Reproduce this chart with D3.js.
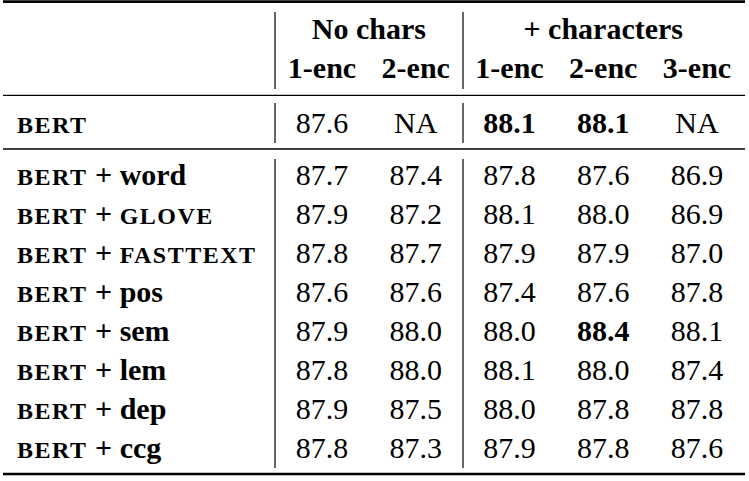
<!DOCTYPE html>
<html>
<head>
<meta charset="utf-8">
<script src="https://cdn.jsdelivr.net/npm/d3@7/dist/d3.min.js"></script>
<style>
  html, body { margin: 0; padding: 0; background: #fff; }
  svg { display: block; }
</style>
</head>
<body>
<script>
// ---- data ----
const groups = ["No chars", "+ characters"];
const groupSpans = [[0, 1], [2, 4]];
const columns = ["1-enc", "2-enc", "1-enc", "2-enc", "3-enc"];

const baseModel = "BERT";
const baseValues = [87.6, null, 88.1, 88.1, null];
const baseBold = [false, false, true, true, false];

const features = ["word", "GLOVE", "FASTTEXT", "pos", "sem", "lem", "dep", "ccg"];
const featureSmallCaps = [false, true, true, false, false, false, false, false];

const noChars1 = [87.7, 87.9, 87.8, 87.6, 87.9, 87.8, 87.9, 87.8];
const noChars2 = [87.4, 87.2, 87.7, 87.6, 88.0, 88.0, 87.5, 87.3];
const chars1   = [87.8, 88.1, 87.9, 87.4, 88.0, 88.1, 88.0, 87.9];
const chars2   = [87.6, 88.0, 87.9, 87.6, 88.4, 88.0, 87.8, 87.8];
const chars3   = [86.9, 86.9, 87.0, 87.8, 88.1, 87.4, 87.8, 87.6];
const series = [noChars1, noChars2, chars1, chars2, chars3];
// bold cells in body: [featureIndex, columnIndex]
const boldCells = [[4, 3]];

// ---- layout ----
const FONT = "'Liberation Serif', 'DejaVu Serif', 'Times New Roman', Times, serif";
const W = 749, H = 481;
const svg = d3.select("body").append("svg")
  .attr("width", W).attr("height", H)
  .attr("font-family", FONT)
  .style("font-family", FONT);
svg.append("rect").attr("width", W).attr("height", H).attr("fill", "#fff");

const x = d3.scaleLinear().domain([0, columns.length - 1]).range([322, 697]);
const yBody = d3.scaleLinear().domain([0, features.length - 1]).range([185, 458]);
const yHead1 = 39, yHead2 = 78, yBase = 133;
const labelX = 17;
const fs = 30, scFs = 24;
const fmt = d3.format(".1f");

// rules
const ruleX0 = 3, ruleX1 = 745;
const rules = [
  { y: 1.6, w: 2.6 },
  { y: 95.3, w: 1.3 },
  { y: 149, w: 1.3 },
  { y: 474, w: 2.6 }
];
svg.selectAll("line.rule").data(rules).join("line")
  .attr("class", "rule")
  .attr("x1", ruleX0).attr("x2", ruleX1)
  .attr("y1", d => d.y).attr("y2", d => d.y)
  .attr("stroke", "#000").attr("stroke-width", d => d.w);

// vertical separators
const vX = [275, 463];
const vSegs = [[12, 89], [103, 143], [159, 468]];
vX.forEach(vx => {
  svg.selectAll(null).data(vSegs).join("line")
    .attr("x1", vx).attr("x2", vx)
    .attr("y1", d => d[0]).attr("y2", d => d[1])
    .attr("stroke", "#000").attr("stroke-width", 1.2);
});

function styleText(sel) {
  return sel.style("font-family", FONT).attr("fill", "#000");
}

// group headers
styleText(svg.selectAll("text.group").data(groups).join("text"))
  .attr("class", "group")
  .attr("x", (d, i) => (x(groupSpans[i][0]) + x(groupSpans[i][1])) / 2)
  .attr("y", yHead1)
  .attr("text-anchor", "middle")
  .attr("font-weight", "bold")
  .attr("font-size", fs)
  .text(d => d);

// column headers
styleText(svg.selectAll("text.col").data(columns).join("text"))
  .attr("class", "col")
  .attr("x", (d, i) => x(i))
  .attr("y", yHead2)
  .attr("text-anchor", "middle")
  .attr("font-weight", "bold")
  .attr("font-size", fs)
  .text(d => d);

// row label helper
function drawLabel(y, feature, sc) {
  const t = styleText(svg.append("text"))
    .attr("x", labelX).attr("y", y)
    .attr("font-weight", "bold");
  t.append("tspan").attr("font-size", scFs).attr("letter-spacing", 1.5).text(baseModel);
  if (feature !== null) {
    t.append("tspan").attr("font-size", fs).attr("letter-spacing", 0).text("\u00a0+\u00a0");
    t.append("tspan")
      .attr("font-size", sc ? scFs : fs)
      .attr("letter-spacing", sc ? 1.5 : 0)
      .text(feature);
  }
}

// base row
drawLabel(yBase, null, false);
styleText(svg.selectAll("text.base").data(baseValues).join("text"))
  .attr("class", "base")
  .attr("x", (d, i) => x(i))
  .attr("y", yBase)
  .attr("text-anchor", "middle")
  .attr("font-size", fs)
  .attr("font-weight", (d, i) => baseBold[i] ? "bold" : "normal")
  .text(d => d === null ? "NA" : fmt(d));

// body rows
features.forEach((f, r) => drawLabel(yBody(r), f, featureSmallCaps[r]));

const cells = [];
series.forEach((s, c) => s.forEach((v, r) => cells.push({ r, c, v })));
const isBold = d => boldCells.some(b => b[0] === d.r && b[1] === d.c);

styleText(svg.selectAll("text.cell").data(cells).join("text"))
  .attr("class", "cell")
  .attr("x", d => x(d.c))
  .attr("y", d => yBody(d.r))
  .attr("text-anchor", "middle")
  .attr("font-size", fs)
  .attr("font-weight", d => isBold(d) ? "bold" : "normal")
  .text(d => fmt(d.v));
</script>
</body>
</html>
